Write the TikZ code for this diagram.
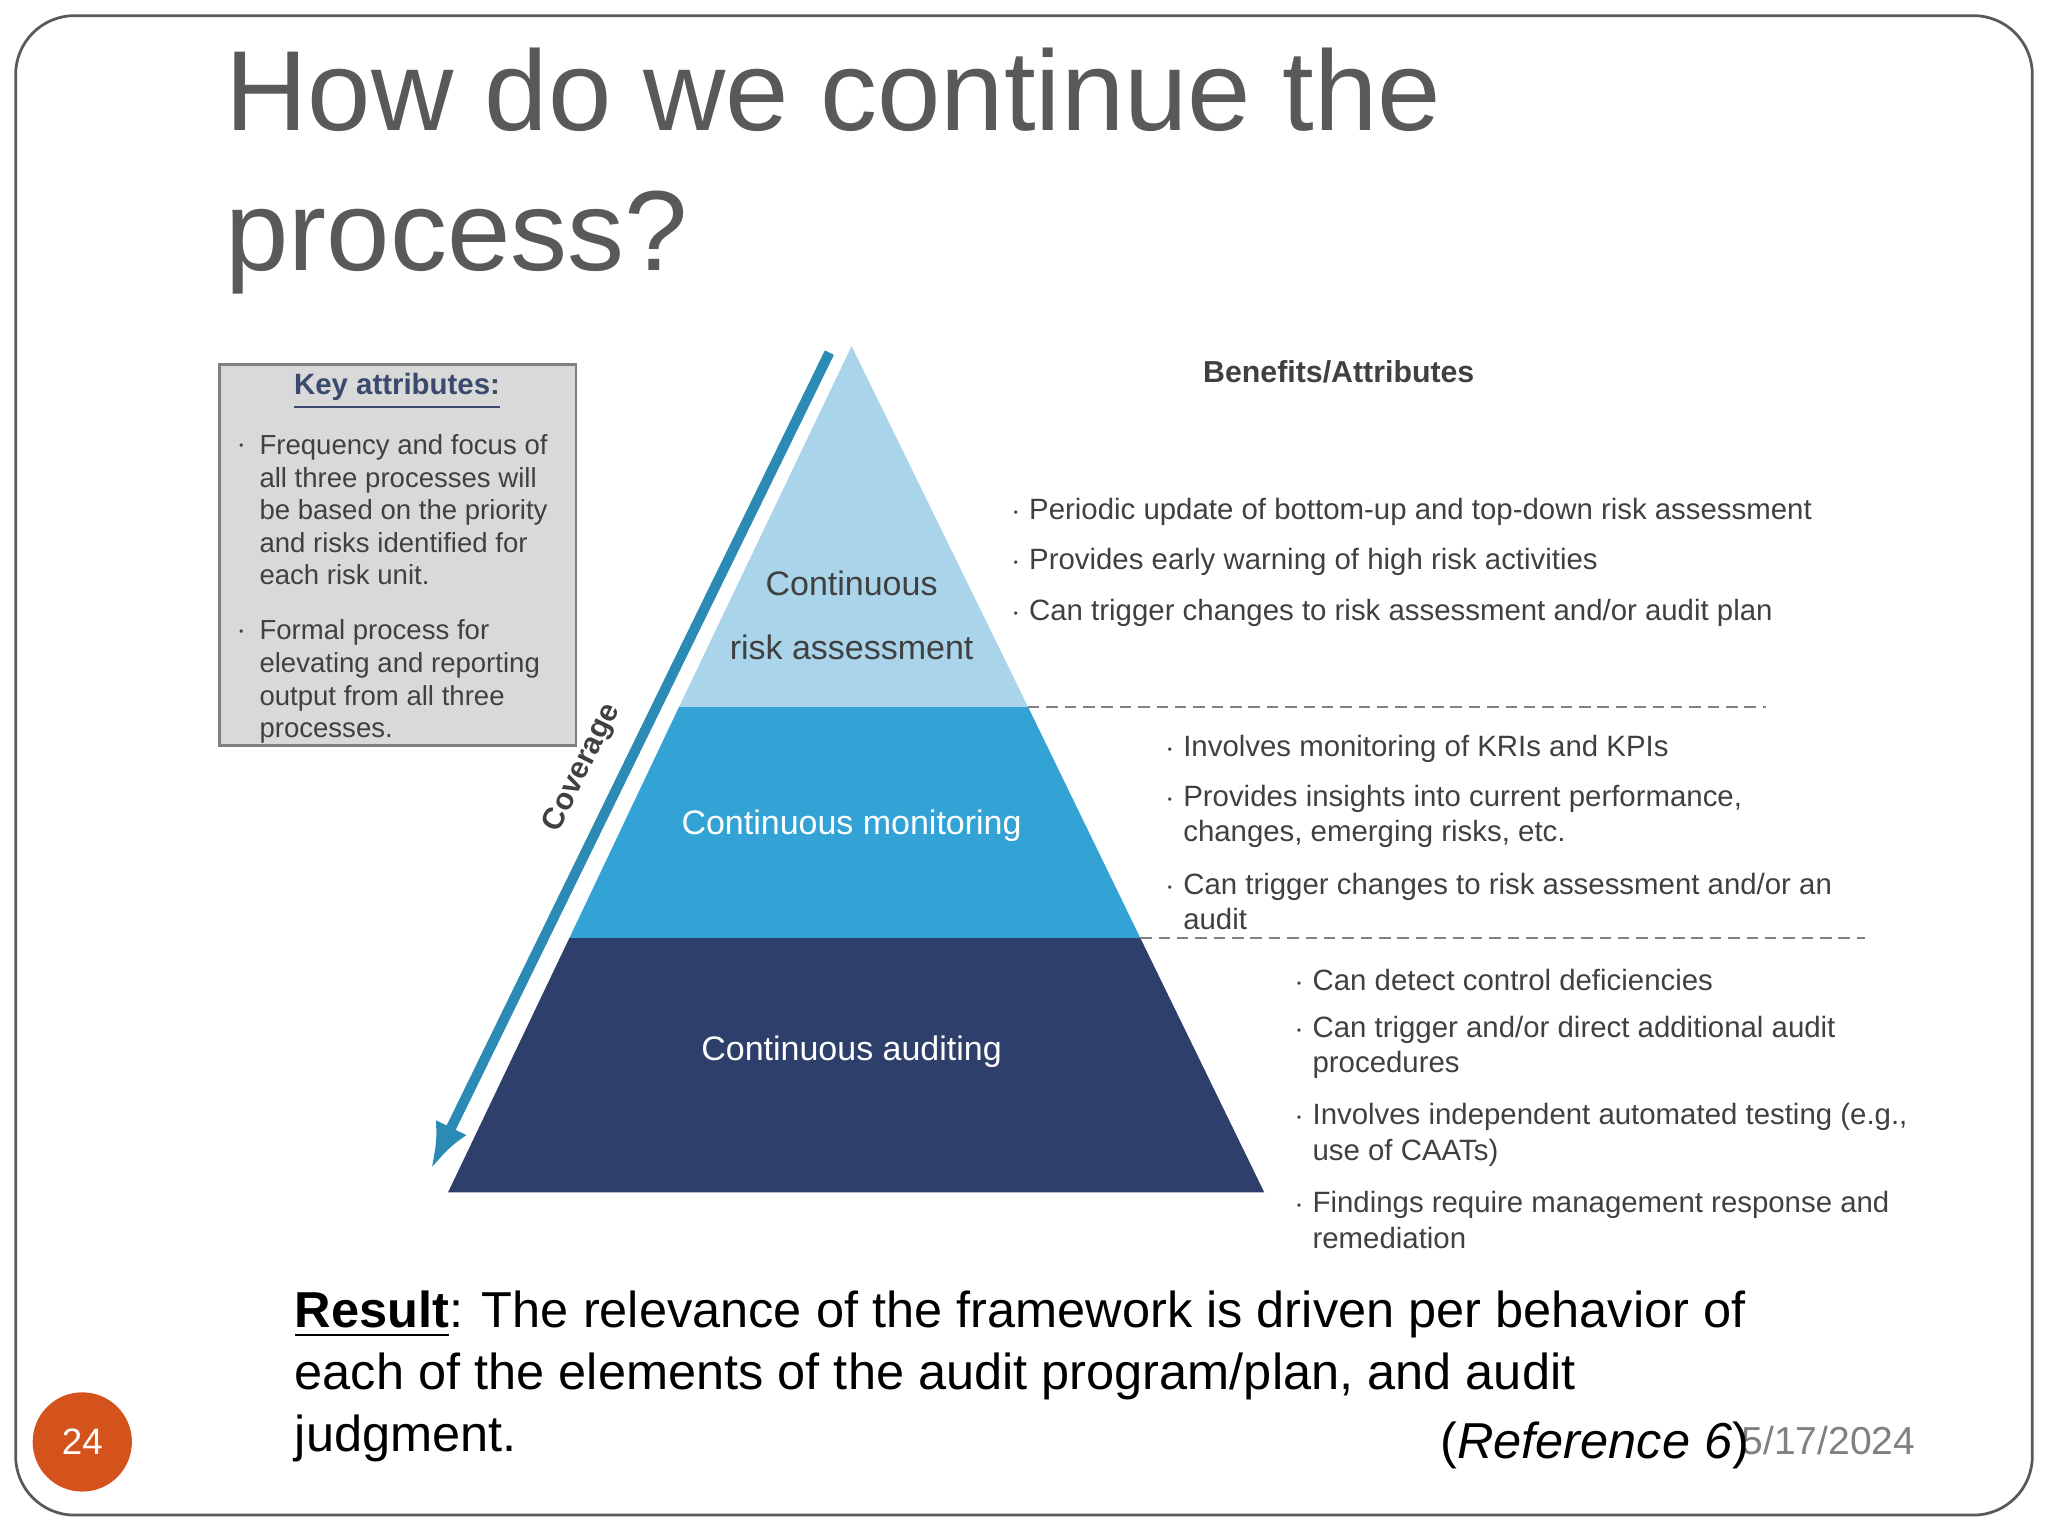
\documentclass[tikz,border=0pt]{standalone}
\usepackage{fontspec}
\setmainfont{Liberation Sans}
\usetikzlibrary{arrows.meta}
\usepackage{xcolor}
\definecolor{tgray}{HTML}{595959}
\definecolor{lblue}{HTML}{A9D4EA}
\definecolor{mblue}{HTML}{33A3D5}
\definecolor{dblue}{HTML}{2D3F6A}
\definecolor{txt}{HTML}{404040}
\definecolor{keyblue}{HTML}{3A4A6E}
\definecolor{orng}{HTML}{D4521C}
\begin{document}
\begin{tikzpicture}[x=0.01cm,y=-0.01cm,
  bt/.style={anchor=west,inner sep=0pt,font=\fontsize{6.4}{7.7}\selectfont,text=txt,align=left},
  kt/.style={anchor=north west,inner sep=0pt,font=\fontsize{6}{7.1}\selectfont,text=txt,align=left},
  lvl/.style={font=\fontsize{7.4}{9}\selectfont,inner sep=0pt},
  dl/.style={dash pattern=on 2.5pt off 1.5pt,gray,line width=0.4pt}]
\useasboundingbox (0,0) rectangle (1568,1176);
\draw[gray!70!black,line width=0.6pt,rounded corners=0.45cm] (12,12) rectangle (1556,1160);
\node[anchor=north west,inner sep=0pt,text=tgray,align=left,font=\fontsize{24.8}{30.5}\selectfont] (title) at (172,36) {How do we continue the\\process?};
% key box
\node[draw=gray,fill=gray!30,minimum width=273*0.01cm,minimum height=292*0.01cm,anchor=north west,line width=0.6pt] (kbox) at (167,278) {};
\node[inner sep=0pt,font=\fontsize{6.4}{7.5}\selectfont\bfseries,text=keyblue] (ktitle) at (304,300) {\underline{Key attributes:}};
\node[kt] (k1) at (180,336) {$\cdot$};
\node[kt] (k1t) at (198,332) {Frequency and focus of\\all three processes will\\be based on  the priority\\and risks identified for\\each risk unit.};
\node[kt] (k2) at (180,478) {$\cdot$};
\node[kt] (k2t) at (198,474) {Formal process for\\elevating and reporting\\output from all  three\\processes.};
% pyramid
\fill[dblue] (436,718) -- (873,718) -- (968,913) -- (343,913) -- cycle;
\fill[mblue] (520,541) -- (787,541) -- (873,718) -- (436,718) -- cycle;
\fill[lblue] (652,265) -- (787,541) -- (520,541) -- cycle;
\node[lvl,text=txt,align=center] (l1) at (652,471) {Continuous\\[5pt]risk assessment};
\node[lvl,text=white] (l2) at (652,632) {Continuous monitoring};
\node[lvl,text=white] (l3) at (652,805) {Continuous auditing};
\coordinate (cs) at (635,270);
\coordinate (ce) at (330,895);
\draw[-{Latex[length=10pt]},draw=mblue!85!black,line width=2.2pt] (cs) -- (ce);
\node[rotate=64,font=\fontsize{6.6}{8}\selectfont\bfseries,text=txt] (cov) at (446,588) {Coverage};
% benefits
\node[font=\fontsize{6.6}{8}\selectfont\bfseries,text=txt] (bh) at (1025,285) {Benefits/Attributes};
\node[bt] (b1) at (773,392) {$\cdot$ Periodic update of bottom-up and top-down risk assessment};
\node[bt] (b2) at (773,430) {$\cdot$ Provides early warning of high risk activities};
\node[bt] (b3) at (773,469) {$\cdot$ Can trigger changes to risk assessment and/or audit plan};
\draw[dl] (787,541) -- (1352,541);
\node[bt] (c1) at (891,573) {$\cdot$ Involves monitoring of KRIs and KPIs};
\node[bt] (c2) at (891,625) {$\cdot$ Provides insights into current performance,\\\hphantom{$\cdot$ }changes, emerging risks, etc.};
\node[bt] (c3) at (891,690) {$\cdot$ Can trigger changes to risk assessment and/or an\\\hphantom{$\cdot$ }audit};
\draw[dl] (873,718) -- (1428,718);
\node[bt] (d1) at (990,750) {$\cdot$ Can detect control deficiencies};
\node[bt] (d2) at (990,802) {$\cdot$ Can trigger and/or direct additional audit\\\hphantom{$\cdot$ }procedures};
\node[bt] (d3) at (990,869) {$\cdot$ Involves independent automated testing  (e.g.,\\\hphantom{$\cdot$ }use of CAATs)};
\node[bt] (d4) at (990,934) {$\cdot$ Findings require management response and\\\hphantom{$\cdot$ }remediation};
% result
\node[anchor=north west,inner sep=0pt,align=left,font=\fontsize{11}{13.4}\selectfont] (res) at (225,988) {\textbf{\underline{Result}}: The relevance of the framework is driven per behavior of\\each of the elements of the audit program/plan, and audit\\judgment.};
\node[anchor=east,inner sep=0pt,text=gray,font=\fontsize{8.5}{10}\selectfont] (date) at (1467,1103) {5/17/2024};
\node[anchor=east,inner sep=0pt,font=\fontsize{11}{13}\selectfont] (ref) at (1340,1107) {(\textit{Reference 6})};
\node[circle,fill=orng,minimum size=76*0.01cm,inner sep=0pt,text=white,font=\fontsize{8}{9}\selectfont] (pg) at (63,1104) {24};
\end{tikzpicture}
\end{document}
